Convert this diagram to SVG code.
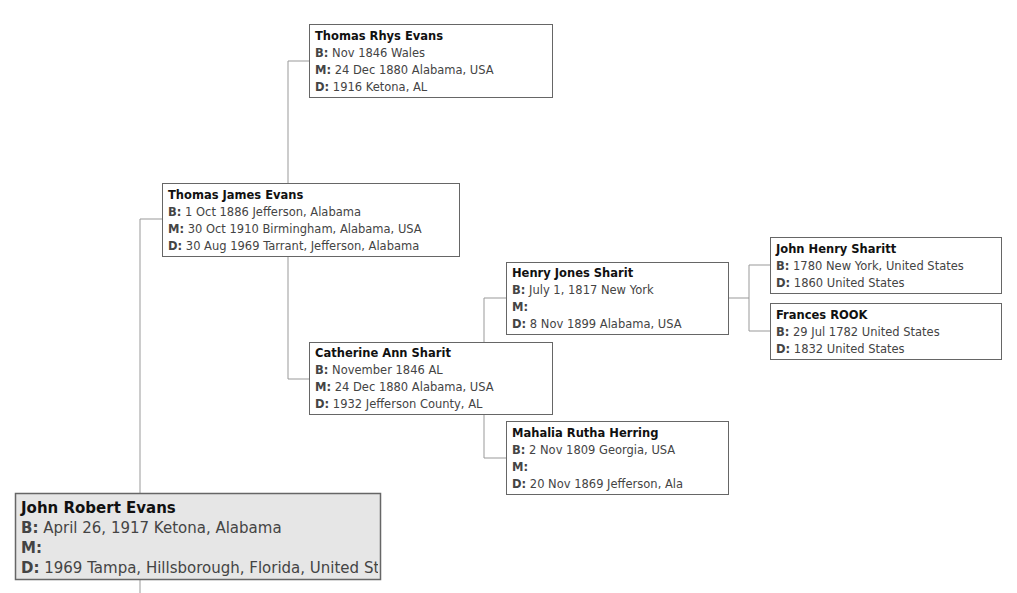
<svg xmlns="http://www.w3.org/2000/svg" width="1017" height="593" viewBox="0 0 1017 593">
<style>
.b{fill:#fff;stroke:#666;stroke-width:1}
.m{fill:#e6e6e6;stroke:#666;stroke-width:1.5}
text{font-family:"DejaVu Sans",Verdana,sans-serif;font-size:11.5px;fill:#444}
.n{font-weight:bold;fill:#111}
.l{font-weight:bold;fill:#444}
.big{font-size:15px}
.c{stroke:#999;stroke-width:1;fill:none}
</style>
<rect width="1017" height="593" fill="#fff"/>
<g id="connectors">
<path class="c" d="M309,61H288V183M288,256V379H309M162,219H140V593M506,298H484V342M484,414V458H506M728,298H749M749,265V331M749,265H770M749,331H770"/>
</g>
<g id="trhys"><rect class="b" x="309.5" y="24.5" width="243" height="73"/>
<text x="315" y="40" class="n">Thomas Rhys Evans</text>
<text x="315" y="57"><tspan class="l">B:</tspan> Nov 1846 Wales</text>
<text x="315" y="74"><tspan class="l">M:</tspan> 24 Dec 1880 Alabama, USA</text>
<text x="315" y="91"><tspan class="l">D:</tspan> 1916 Ketona, AL</text></g>
<g id="tjames"><rect class="b" x="162.5" y="183.5" width="297" height="73"/>
<text x="168" y="199" class="n">Thomas James Evans</text>
<text x="168" y="216"><tspan class="l">B:</tspan> 1 Oct 1886 Jefferson, Alabama</text>
<text x="168" y="233"><tspan class="l">M:</tspan> 30 Oct 1910 Birmingham, Alabama, USA</text>
<text x="168" y="250"><tspan class="l">D:</tspan> 30 Aug 1969 Tarrant, Jefferson, Alabama</text></g>
<g id="henry"><rect class="b" x="506.5" y="262.5" width="222" height="72"/>
<text x="512" y="277" class="n">Henry Jones Sharit</text>
<text x="512" y="294"><tspan class="l">B:</tspan> July 1, 1817 New York</text>
<text x="512" y="311"><tspan class="l">M:</tspan></text>
<text x="512" y="328"><tspan class="l">D:</tspan> 8 Nov 1899 Alabama, USA</text></g>
<g id="johnhenry"><rect class="b" x="770.5" y="237.5" width="231" height="56"/>
<text x="776" y="253" class="n">John Henry Sharitt</text>
<text x="776" y="270"><tspan class="l">B:</tspan> 1780 New York, United States</text>
<text x="776" y="287"><tspan class="l">D:</tspan> 1860 United States</text></g>
<g id="frances"><rect class="b" x="770.5" y="303.5" width="231" height="56"/>
<text x="776" y="319" class="n">Frances ROOK</text>
<text x="776" y="336"><tspan class="l">B:</tspan> 29 Jul 1782 United States</text>
<text x="776" y="353"><tspan class="l">D:</tspan> 1832 United States</text></g>
<g id="catherine"><rect class="b" x="309.5" y="342.5" width="243" height="72"/>
<text x="315" y="357" class="n">Catherine Ann Sharit</text>
<text x="315" y="374"><tspan class="l">B:</tspan> November 1846 AL</text>
<text x="315" y="391"><tspan class="l">M:</tspan> 24 Dec 1880 Alabama, USA</text>
<text x="315" y="408"><tspan class="l">D:</tspan> 1932 Jefferson County, AL</text></g>
<g id="mahalia"><rect class="b" x="506.5" y="421.5" width="222" height="73"/>
<text x="512" y="437" class="n">Mahalia Rutha Herring</text>
<text x="512" y="454"><tspan class="l">B:</tspan> 2 Nov 1809 Georgia, USA</text>
<text x="512" y="471"><tspan class="l">M:</tspan></text>
<text x="512" y="488"><tspan class="l">D:</tspan> 20 Nov 1869 Jefferson, Ala</text></g>
<g id="john"><defs><clipPath id="cj"><rect x="16" y="494" width="362" height="85"/></clipPath></defs>
<rect class="m" x="15.5" y="493.5" width="365" height="86"/>
<g clip-path="url(#cj)">
<text x="21" y="513" class="n big">John Robert Evans</text>
<text x="21" y="533" class="big"><tspan class="l">B:</tspan> April 26, 1917 Ketona, Alabama</text>
<text x="21" y="553" class="big"><tspan class="l">M:</tspan></text>
<text x="21" y="573" class="big"><tspan class="l">D:</tspan> 1969 Tampa, Hillsborough, Florida, United States</text></g></g>
</svg>
